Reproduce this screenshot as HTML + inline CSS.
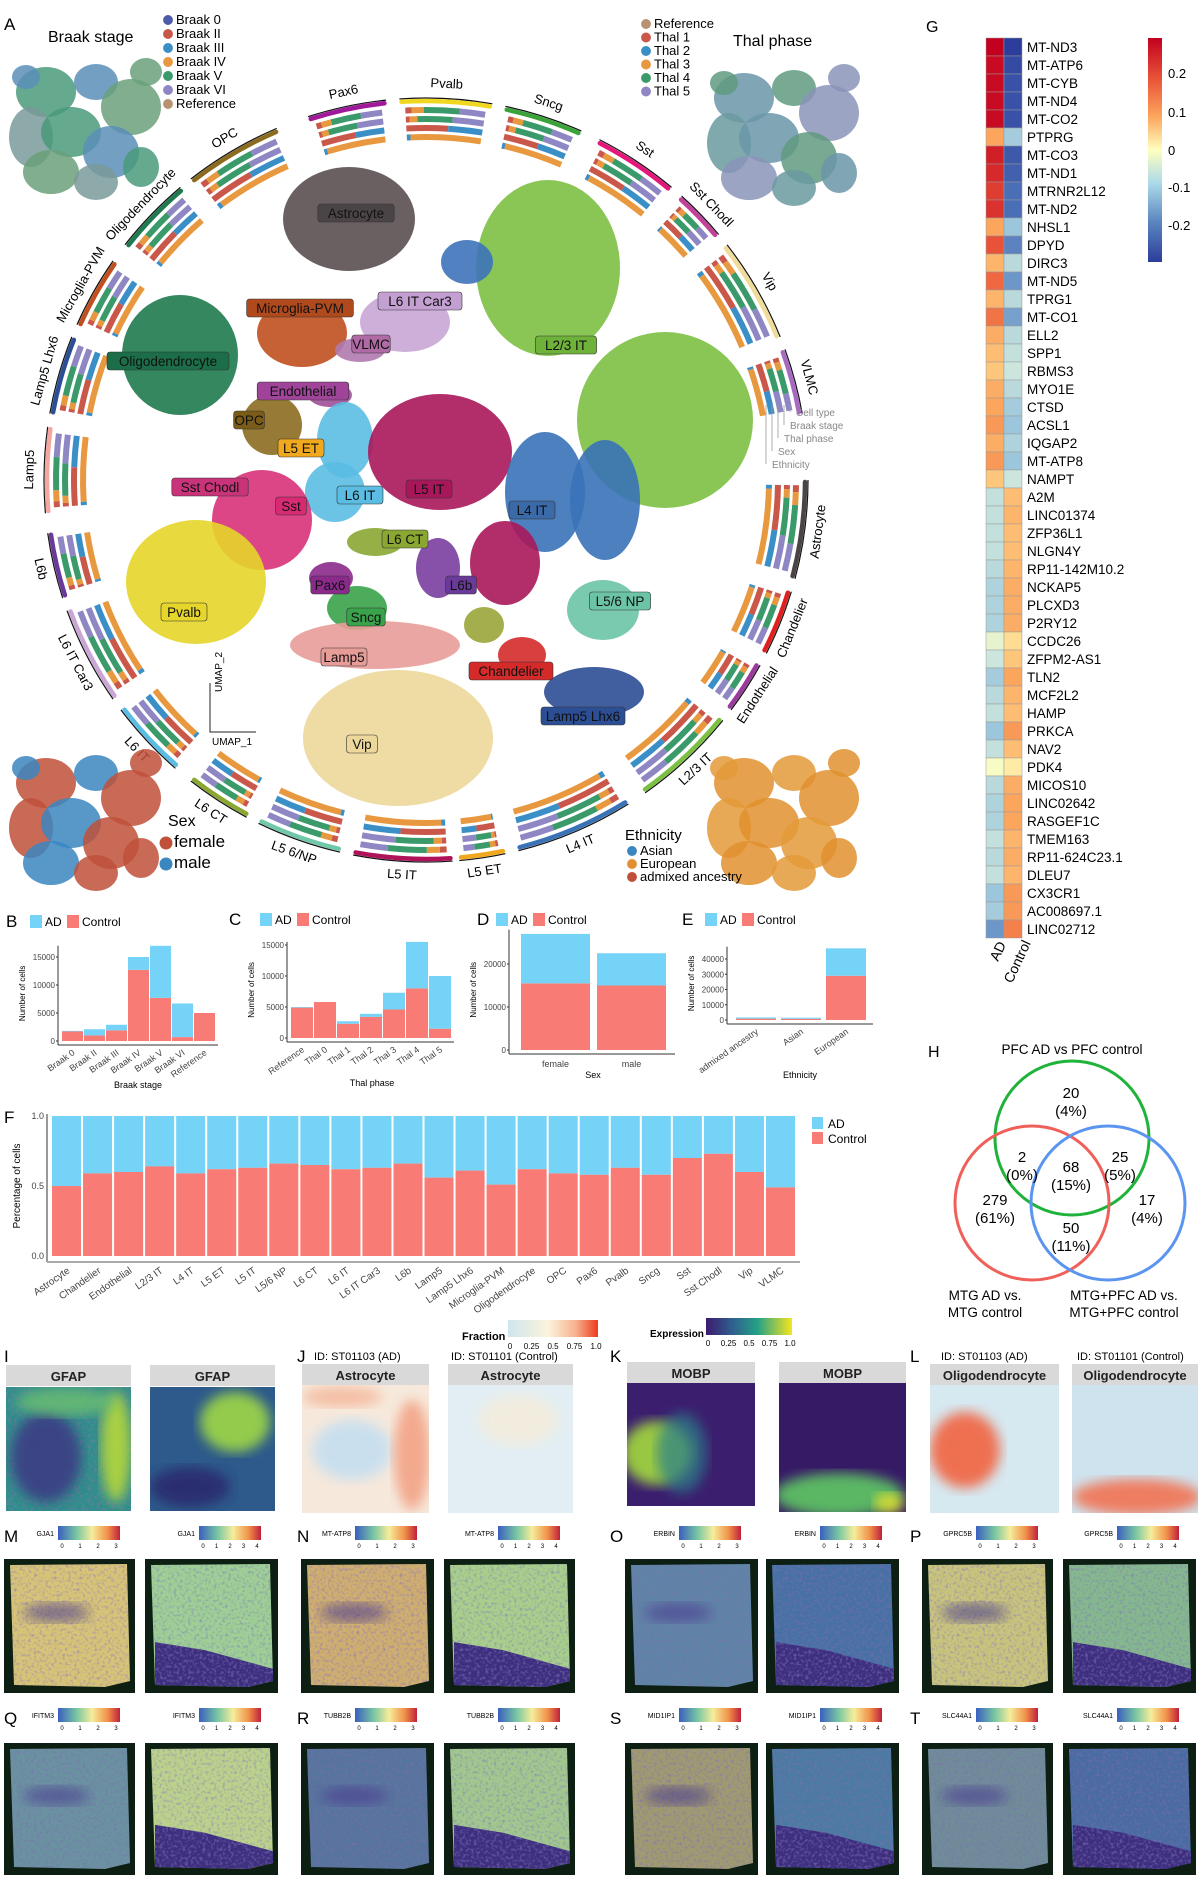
<!DOCTYPE html>
<html><head><meta charset="utf-8">
<style>
html,body{margin:0;padding:0;background:#fff;}
body{width:1200px;height:1876px;overflow:hidden;font-family:"Liberation Sans",Arial,sans-serif;}
svg text{font-family:"Liberation Sans",Arial,sans-serif;}
</style></head>
<body>
<svg id="fig" width="1200" height="1876" viewBox="0 0 1200 1876" xmlns="http://www.w3.org/2000/svg">
<defs>
<filter id="speckle" x="0" y="0" width="100%" height="100%">
<feTurbulence type="fractalNoise" baseFrequency="0.35" numOctaves="2" seed="3" result="n"/>
<feColorMatrix in="n" type="matrix" values="0 0 0 0 0.2  0 0 0 0 0.15  0 0 0 0 0.45  0 0 0 1.6 -0.75" result="m"/>
<feComposite in="m" in2="SourceGraphic" operator="in" result="c"/>
<feMerge><feMergeNode in="SourceGraphic"/><feMergeNode in="c"/></feMerge>
</filter>
<filter id="blur4"><feGaussianBlur stdDeviation="6"/></filter>
<linearGradient id="hmbar" x1="0" y1="0" x2="0" y2="1">
<stop offset="0" stop-color="#c3001f"/><stop offset="0.2" stop-color="#ec5c3b"/><stop offset="0.35" stop-color="#fca55d"/><stop offset="0.5" stop-color="#ffffbf"/><stop offset="0.65" stop-color="#abd9e9"/><stop offset="0.82" stop-color="#5b86c0"/><stop offset="1" stop-color="#2c3d9b"/>
</linearGradient>
<linearGradient id="fracbar" x1="0" x2="1"><stop offset="0" stop-color="#cfe6ee"/><stop offset="0.45" stop-color="#fbf3dc"/><stop offset="0.75" stop-color="#f7b38f"/><stop offset="1" stop-color="#ee3a1f"/></linearGradient>
<linearGradient id="virbar" x1="0" x2="1"><stop offset="0" stop-color="#3d1a6e"/><stop offset="0.3" stop-color="#2f5e8e"/><stop offset="0.6" stop-color="#25a187"/><stop offset="1" stop-color="#f5e51f"/></linearGradient>
<linearGradient id="specbar" x1="0" x2="1"><stop offset="0" stop-color="#3a5fc0"/><stop offset="0.3" stop-color="#78c6a3"/><stop offset="0.55" stop-color="#f6ed9a"/><stop offset="0.8" stop-color="#f19149"/><stop offset="1" stop-color="#c1203b"/></linearGradient>
</defs>
<g id="root"></g>
</svg>
<script>
// ---------- data ----------
const braakCats=["Braak 0","Braak II","Braak III","Braak IV","Braak V","Braak VI","Reference"];
const braakAD=[100,1100,1000,2300,9300,6000,0];
const braakCtl=[1700,1000,1900,12700,7700,700,5000];
const thalCats=["Reference","Thal 0","Thal 1","Thal 2","Thal 3","Thal 4","Thal 5"];
const thalAD=[100,0,400,500,2700,7500,8500];
const thalCtl=[4900,5800,2300,3400,4600,8000,1500];
const sexCats=["female","male"];
const sexAD=[11500,7500];
const sexCtl=[15500,15000];
const ethCats=["admixed ancestry","Asian","European"];
const ethAD=[800,700,18000];
const ethCtl=[900,800,29000];
const typeCats=["Astrocyte","Chandelier","Endothelial","L2/3 IT","L4 IT","L5 ET","L5 IT","L5/6 NP","L6 CT","L6 IT","L6 IT Car3","L6b","Lamp5","Lamp5 Lhx6","Microglia-PVM","Oligodendrocyte","OPC","Pax6","Pvalb","Sncg","Sst","Sst Chodl","Vip","VLMC"];
const typeCtlFrac=[0.50,0.59,0.60,0.64,0.59,0.62,0.63,0.66,0.65,0.62,0.63,0.66,0.56,0.61,0.51,0.62,0.59,0.58,0.63,0.58,0.70,0.73,0.60,0.49];
const genes=["MT-ND3","MT-ATP6","MT-CYB","MT-ND4","MT-CO2","PTPRG","MT-CO3","MT-ND1","MTRNR2L12","MT-ND2","NHSL1","DPYD","DIRC3","MT-ND5","TPRG1","MT-CO1","ELL2","SPP1","RBMS3","MYO1E","CTSD","ACSL1","IQGAP2","MT-ATP8","NAMPT","A2M","LINC01374","ZFP36L1","NLGN4Y","RP11-142M10.2","NCKAP5","PLCXD3","P2RY12","CCDC26","ZFPM2-AS1","TLN2","MCF2L2","HAMP","PRKCA","NAV2","PDK4","MICOS10","LINC02642","RASGEF1C","TMEM163","RP11-624C23.1","DLEU7","CX3CR1","AC008697.1","LINC02712"];
const geneAD=[0.27,0.26,0.26,0.26,0.26,0.12,0.24,0.23,0.21,0.22,0.12,0.19,0.10,0.17,0.10,0.16,0.11,0.09,0.08,0.11,0.12,0.13,0.11,0.13,0.08,-0.07,-0.07,-0.07,-0.07,-0.08,-0.09,-0.09,-0.09,-0.03,-0.06,-0.10,-0.08,-0.07,-0.11,-0.07,-0.01,-0.08,-0.09,-0.09,-0.07,-0.08,-0.07,-0.11,-0.10,-0.16];
const geneCtl=[-0.27,-0.25,-0.24,-0.24,-0.24,-0.10,-0.23,-0.22,-0.20,-0.20,-0.11,-0.18,-0.08,-0.16,-0.08,-0.15,-0.08,-0.07,-0.06,-0.08,-0.10,-0.11,-0.09,-0.11,-0.06,0.09,0.10,0.09,0.09,0.10,0.11,0.11,0.11,0.05,0.08,0.12,0.10,0.09,0.13,0.09,0.03,0.11,0.12,0.12,0.10,0.11,0.10,0.13,0.13,0.15];
const ringNames=["Pax6","Pvalb","Sncg","Sst","Sst Chodl","Vip","VLMC","Astrocyte","Chandelier","Endothelial","L2/3 IT","L4 IT","L5 ET","L5 IT","L5 6/NP","L6 CT","L6 IT","L6 IT Car3","L6b","Lamp5","Lamp5 Lhx6","Microglia-PVM","Oligodendrocyte","OPC"];
const ringStart=[-18,-4,12,27,42,52,70,90,107,119,129,148,168,176,193,208,221,235,252,265,280,294,308,322];
const ringEnd=[-6,10,24,40,50,68,80,105,117,127,145,166,175,191,206,218,233,250,262,278,292,305,320,337];
const ringColor=["#a0199a","#f0d820","#3aa33a","#e4187a","#c2429a","#f0dc9a","#a86ac0","#4a4446","#e0201e","#9a3a9a","#7cc043","#3a72b8","#f0a81e","#b0125a","#70c8a8","#8aa732","#5bbde3","#c9a6d6","#6a3a9a","#f4a6a0","#2c4e94","#c0501f","#1f7a4f","#8b6b1f"];

// ---------- helpers ----------
const NS="http://www.w3.org/2000/svg";
const root=document.getElementById('root');
function mk(tag,attrs,parent){const e=document.createElementNS(NS,tag);for(const k in attrs)e.setAttribute(k,attrs[k]);(parent||root).appendChild(e);return e;}
function tx(x,y,s,size,parent,extra){const e=mk('text',Object.assign({x:x,y:y,'font-size':size,fill:'#000'},extra||{}),parent);e.textContent=s;return e;}
const AD_C="#75d3f8",CT_C="#f87b76";

// ---------- Panel A ----------
const gA=mk('g',{});


tx(4,30,"A",17,gA);
const CX=426,CY=480;
function pt(r,a){const t=(a-90)*Math.PI/180;return [CX+r*Math.cos(t),CY+r*Math.sin(t)];}
function arc(r,a0,a1,col,w,parent){const p0=pt(r,a0),p1=pt(r,a1);const large=(a1-a0)>180?1:0;return mk('path',{d:`M${p0[0]},${p0[1]} A${r},${r} 0 ${large} 1 ${p1[0]},${p1[1]}`,stroke:col,'stroke-width':w,fill:'none','stroke-linecap':'round'},parent);}
const trackDefs=[
 {r:370,cols:["#c9584a","#e8993f","#3a9a6a","#8e87c4"],fr:[0.08,0.15,0.45,0.32]},
 {r:361,cols:["#c9584a","#e8993f","#3a9a6a","#8e87c4"],fr:[0.05,0.1,0.45,0.4]},
 {r:352,cols:["#c9584a","#3b8fc7"],fr:[0.55,0.45]},
 {r:343,cols:["#3b8fc7","#e8993f"],fr:[0.05,0.95]}];
for(let i=0;i<ringNames.length;i++){
  const seg=mk('g',{},gA);
  
  
  const a0=ringStart[i],a1=ringEnd[i];
  arc(382,a0,a1,'#111',1.2,seg).setAttribute('stroke-linecap','butt');
  arc(379,a0+0.3,a1-0.3,ringColor[i],4.5,seg);
  trackDefs.forEach(td=>{let a=a0+0.8;const span=(a1-a0-1.6);td.fr.forEach((f,j)=>{const b=a+span*f;arc(td.r,a,b,td.cols[j],6,seg).setAttribute('stroke-linecap','butt');a=b;});});
  const am=(a0+a1)/2;const p=pt(396,am);
  let rot=am<0?am:(am<90?am:(am<265?am-180:am-360));
  tx(p[0],p[1],ringNames[i],13,seg,{'text-anchor':'middle','dominant-baseline':'middle',transform:`rotate(${rot} ${p[0]} ${p[1]})`});
}
const tl=mk('g',{},gA);


["Cell type","Braak stage","Thal phase","Sex","Ethnicity"].forEach((s,i)=>{tx(796-i*6,416+i*13,s,10,tl,{fill:'#888'});mk('line',{x1:790-i*6,y1:405,x2:790-i*6,y2:412+i*13,stroke:'#999','stroke-width':0.8},tl);});
const clusters=[
 ["astrocyte",349,219,66,52,"#5a4e50"],["l23-it",548,268,72,88,"#7cc043"],["l23-it-b",665,420,88,88,"#7cc043"],["blue-small",467,262,26,22,"#3e73b9"],
 ["microglia",302,333,45,34,"#c0501f"],["l6-it-car3",405,322,45,30,"#c9a6d6"],["vlmc",360,350,25,12,"#b07ab0"],["oligodendrocyte",180,355,58,60,"#1f7a4f"],
 ["endothelial",330,395,22,12,"#a0509a"],["opc",272,425,30,30,"#8b6b1f"],["l6-it",345,440,28,38,"#5bbde3"],["l6-it-b",335,492,30,30,"#5bbde3"],
 ["l5-it",440,452,72,58,"#a8175a"],["l4-it",545,492,40,60,"#3a72b8"],["l4-it-b",605,500,35,60,"#3a72b8"],["sst",262,520,50,50,"#d8327a"],
 ["pvalb",196,582,70,62,"#e6d52a"],["l6-ct",375,542,28,14,"#8aa732"],["pax6",331,578,22,16,"#8c2a8c"],["l6b",438,568,22,30,"#7a3ea0"],
 ["sncg",357,608,30,22,"#3aa24a"],["l5-it-b",505,563,35,42,"#a8175a"],["l6b-olive",484,625,20,18,"#9aa53a"],["lamp5",375,645,85,24,"#e89c98"],
 ["vip",398,738,95,68,"#ecd89a"],["l56-np",603,610,36,30,"#6cc4a6"],["chandelier",522,655,24,18,"#d42a2a"],["lamp5-lhx6",594,692,50,25,"#2c4e94"]];
clusters.forEach(c=>{const e=mk('ellipse',{cx:c[1],cy:c[2],rx:c[3],ry:c[4],fill:c[5],opacity:0.9},gA);});
const labels=[["Astrocyte",356,213,"#4a4446"],["Microglia-PVM",300,308,"#b04a1c"],["L6 IT Car3",420,301,"#c4a0d2"],["VLMC",371,344,"#b06aa6"],["L2/3 IT",566,345,"#6fb23a"],["Oligodendrocyte",168,361,"#1b6e47"],["Endothelial",303,391,"#a0449a"],["OPC",249,420,"#7a5c18"],["L5 ET",301,448,"#f0a81e"],["Sst Chodl",210,487,"#c8337a"],["Sst",291,506,"#d82a72"],["L6 IT",360,495,"#5bbde3"],["L5 IT",429,489,"#a8175a"],["L4 IT",532,510,"#3a6aa8"],["L6 CT",405,539,"#8aa732"],["Pax6",330,585,"#8c2a8c"],["L6b",461,585,"#6a3a9a"],["L5/6 NP",620,601,"#6cc4a6"],["Sncg",366,617,"#3aa24a"],["Pvalb",184,612,"#e6d52a"],["Lamp5",344,657,"#e89c98"],["Chandelier",511,671,"#d42a2a"],["Lamp5 Lhx6",583,716,"#2c4e94"],["Vip",362,744,"#ecd89a"]];
labels.forEach(l=>{const g=mk('g',{},gA);const w=l[0].length*7.6+8;mk('rect',{x:l[1]-w/2,y:l[2]-9,width:w,height:18,rx:3,fill:l[3],stroke:'#333','stroke-width':0.6},g);tx(l[1],l[2]+5,l[0],13.5,g,{'text-anchor':'middle',fill:'#111'});});
const ua=mk('g',{},gA);
mk('path',{d:'M210,683 L210,732 L256,732',stroke:'#222',fill:'none','stroke-width':1},ua);
tx(224,730,"UMAP_2",10,ua,{transform:'rotate(-90 204 712)'});tx(212,745,"UMAP_1",10,ua);
function mini(name,cx,cy,cols){const g=mk('g',{},gA);
 const blobs=[[-40,-35,30,25],[10,-45,22,18],[45,-20,30,28],[-55,10,22,30],[-15,5,30,25],[25,25,28,26],[-35,45,28,22],[10,55,22,18],[55,40,18,20],[-60,-50,14,12],[60,-55,16,14]];
 blobs.forEach((b,i)=>mk('ellipse',{cx:cx+b[0],cy:cy+b[1],rx:b[2],ry:b[3],fill:cols[i%cols.length],opacity:0.85},g));return g;}
mini('umap-braak-stage',86,127,["#4a9a7a","#5a8eb8","#6aa07a","#7a9a9a"]);
mini('umap-thal-phase',784,133,["#6a96a8","#5f9a80","#8a94b8","#6a9aa0"]);
mini('umap-sex',86,818,["#c0503a","#3a86c0","#c0503a","#c0503a","#3a86c0"]);
mini('umap-ethnicity',784,818,["#e0902e","#e49a38"]);
tx(48,42,"Braak stage",16,gA);tx(733,46,"Thal phase",16,gA);tx(168,826,"Sex",16,gA);tx(625,840,"Ethnicity",15,gA);
function legendList(x,y,items,cols,size,step,name){const g=mk('g',{},gA);items.forEach((s,i)=>{mk('circle',{cx:x,cy:y+i*step-4,r:size*0.38,fill:cols[i]},g);tx(x+8,y+i*step,s,size,g);});}
legendList(168,24,["Braak 0","Braak II","Braak III","Braak IV","Braak V","Braak VI","Reference"],["#4d5aa8","#c9584a","#3b8fc7","#e8993f","#3a9a6a","#8e87c4","#b89270"],13,14,'legend-braak');
legendList(646,28,["Reference","Thal 1","Thal 2","Thal 3","Thal 4","Thal 5"],["#b89270","#c9584a","#3b8fc7","#e8993f","#3a9a6a","#8e87c4"],13,13.5,'legend-thal');
legendList(166,847,["female","male"],["#c0503a","#3a86c0"],17,21,'legend-sex');
legendList(632,855,["Asian","European","admixed ancestry"],["#3a86c0","#e0902e","#c0503a"],13,13,'legend-ethnicity');

// ---------- stacked count bar charts ----------
function stacked(name,letter,lx,ox,y0,kPer,maxV,ticks,barX,barW,gap,cats,ad,ctl,title,titleX,titleY,legX,legY,rotLab){
 const g=mk('g',{});
 tx(lx,legY+12,letter,17,g);
 const la=mk('rect',{x:legX,y:legY,width:12,height:13,fill:AD_C},g);
 tx(legX+15,legY+11,"AD",12,g);
 const lc=mk('rect',{x:legX+37,y:legY,width:12,height:13,fill:CT_C},g);
 tx(legX+52,legY+11,"Control",12,g);
 const Y=v=>y0-v*kPer;
 const yTop=Y(maxV);
 mk('line',{x1:ox,y1:yTop,x2:ox,y2:y0+4,stroke:'#333','stroke-width':1},g);
 const nB=cats.length;const xEnd=barX+nB*(barW+gap)+2;
 mk('line',{x1:ox,y1:y0+4,x2:xEnd,y2:y0+4,stroke:'#333','stroke-width':1},g);
 ticks.forEach(t=>{tx(ox-3,Y(t)+3,String(t),8,g,{'text-anchor':'end',fill:'#444'});mk('line',{x1:ox-2,y1:Y(t),x2:ox,y2:Y(t),stroke:'#333'},g);});
 tx(0,0,"Number of cells",8,g,{'text-anchor':'middle',transform:`translate(${ox-(String(maxV).length*5+8)},${(y0+yTop)/2}) rotate(-90)`});
 cats.forEach((c,i)=>{const x=barX+i*(barW+gap);
  const r1=mk('rect',{x:x,y:Y(ctl[i]),width:barW,height:ctl[i]*kPer,fill:CT_C},g);
  const r2=mk('rect',{x:x,y:Y(ctl[i]+ad[i]),width:barW,height:ad[i]*kPer,fill:AD_C},g);
  const cx=x+barW/2;
  if(rotLab) tx(cx+3,y0+13,c,9,g,{'text-anchor':'end',fill:'#444',transform:`rotate(-35 ${cx+3} ${y0+13})`});
  else tx(cx,y0+17,c,9,g,{'text-anchor':'middle',fill:'#444'});
 });
 tx(titleX,titleY,title,9,g,{'text-anchor':'middle'});
}
stacked('panel-b-braak-bars','B',6,58,1041,84/15000,17000,[0,5000,10000,15000],62,21,1,braakCats,braakAD,braakCtl,"Braak stage",138,1088,30,915,true);
stacked('panel-c-thal-bars','C',229,287,1038,93/15000,15500,[0,5000,10000,15000],291,22,1,thalCats,thalAD,thalCtl,"Thal phase",372,1086,260,913,true);
stacked('panel-d-sex-bars','D',477,509,1050,86/20000,28000,[0,10000,20000],521,69,7,sexCats,sexAD,sexCtl,"Sex",593,1078,496,913,false);
stacked('panel-e-ethnicity-bars','E',682,727,1020,61/40000,48000,[0,10000,20000,30000,40000],736,40,5,ethCats,ethAD,ethCtl,"Ethnicity",800,1078,705,913,true);

// ---------- Panel F ----------
(function(){
 const g=mk('g',{});
 tx(4,1123,"F",17,g);
 const y0=1256,y1=1116,Y=v=>y0-(y0-y1)*v;
 mk('line',{x1:47,y1:1114,x2:47,y2:1262,stroke:'#333'},g);mk('line',{x1:47,y1:1262,x2:800,y2:1262,stroke:'#aaa','stroke-width':2},g);
 [0,0.5,1].forEach(t=>{tx(44,Y(t)+3,t.toFixed(1),9,g,{'text-anchor':'end',fill:'#444'});});
 tx(0,0,"Percentage of cells",10,g,{'text-anchor':'middle',transform:'translate(20,1186) rotate(-90)'});
 const step=745/typeCats.length;
 typeCats.forEach((c,i)=>{const x=52+i*step;
  const r2=mk('rect',{x:x,y:Y(1),width:step-2,height:(y0-y1)*(1-typeCtlFrac[i]),fill:AD_C},g);
  const r1=mk('rect',{x:x,y:Y(typeCtlFrac[i]),width:step-2,height:(y0-y1)*typeCtlFrac[i],fill:CT_C},g);
  const cx=x+step/2+3;tx(cx,1272,c,10,g,{'text-anchor':'end',fill:'#444',transform:`rotate(-35 ${cx} 1272)`});
 });
 const a=mk('rect',{x:812,y:1117,width:11,height:12,fill:AD_C},g);
 tx(828,1128,"AD",12,g);
 const b=mk('rect',{x:812,y:1132,width:11,height:12,fill:CT_C},g);
 tx(828,1143,"Control",12,g);
})();

// ---------- Panel G heatmap ----------
(function(){
 const g=mk('g',{});
 tx(926,32,"G",16,g);
 const stops=[[-0.27,[44,61,155]],[-0.2,[74,111,182]],[-0.12,[145,191,219]],[-0.06,[205,230,221]],[0,[255,255,191]],[0.06,[254,214,138]],[0.12,[252,165,93]],[0.18,[236,92,59]],[0.27,[195,0,31]]];
 function col(v){v=Math.max(-0.27,Math.min(0.27,v));for(let i=0;i<stops.length-1;i++){const a=stops[i],b=stops[i+1];if(v<=b[0]){const t=(v-a[0])/(b[0]-a[0]);const c=a[1].map((x,j)=>Math.round(x+(b[1][j]-x)*t));return `rgb(${c})`;}}return 'rgb(195,0,31)';}
 const top=38,h=18;
 genes.forEach((gn,i)=>{const y=top+i*h;
  const c1=mk('rect',{x:986,y:y,width:18,height:h,fill:col(geneAD[i]),stroke:'#999','stroke-width':0.5},g);
  const c2=mk('rect',{x:1004,y:y,width:18,height:h,fill:col(geneCtl[i]),stroke:'#999','stroke-width':0.5},g);
  tx(1027,y+14,gn,13.5,g);
 });
 tx(0,0,"AD",14,g,{transform:'translate(998,962) rotate(-65)'});
 tx(0,0,"Control",14,g,{transform:'translate(1012,984) rotate(-65)'});
 const cb=mk('rect',{x:1148,y:38,width:14,height:224,fill:'url(#hmbar)'},g);
 [["0.2",78],["0.1",117],["0",155],["-0.1",192],["-0.2",230]].forEach(t=>tx(1168,t[1],t[0],13,g));
})();

// ---------- Panel H venn ----------
(function(){
 const g=mk('g',{});
 tx(928,1057,"H",16,g);tx(1072,1054,"PFC AD vs PFC control",13.5,g,{'text-anchor':'middle'});
 const cg=mk('circle',{cx:1072,cy:1138,r:77,fill:'none',stroke:'#1fb33c','stroke-width':3},g);
 const cr=mk('circle',{cx:1032,cy:1203,r:77,fill:'none',stroke:'#f0605a','stroke-width':3},g);
 const cbl=mk('circle',{cx:1108,cy:1203,r:77,fill:'none',stroke:'#5b95f0','stroke-width':3},g);
 [["20","(4%)",1071,1098],["2","(0%)",1022,1162],["68","(15%)",1071,1172],["25","(5%)",1120,1162],["279","(61%)",995,1205],["17","(4%)",1147,1205],["50","(11%)",1071,1233]].forEach(v=>{tx(v[2],v[3],v[0],15,g,{'text-anchor':'middle'});tx(v[2],v[3]+18,v[1],15,g,{'text-anchor':'middle'});});
 tx(985,1300,"MTG AD vs.",13.5,g,{'text-anchor':'middle'});tx(985,1317,"MTG control",13.5,g,{'text-anchor':'middle'});
 tx(1124,1300,"MTG+PFC AD vs.",13.5,g,{'text-anchor':'middle'});tx(1124,1317,"MTG+PFC control",13.5,g,{'text-anchor':'middle'});
})();

// ---------- spatial panels ----------
const gS=mk('g',{});
const defs=document.querySelector('defs');
let clipN=0;
function clipRect(x,y,w,h){const id='clip'+(clipN++);const cp=mk('clipPath',{id:id},defs);mk('rect',{x:x,y:y,width:w,height:h},cp);return `url(#${id})`;}
tx(462,1340,"Fraction",11,gS,{'font-weight':'bold'});mk('rect',{x:508,y:1320,width:90,height:17,fill:'url(#fracbar)'},gS);
["0","0.25","0.5","0.75","1.0"].forEach((s,i)=>tx(510+i*21.5,1349,s,8,gS,{'text-anchor':'middle'}));
tx(650,1337,"Expression",10,gS,{'font-weight':'bold'});mk('rect',{x:706,y:1318,width:86,height:17,fill:'url(#virbar)'},gS);
["0","0.25","0.5","0.75","1.0"].forEach((s,i)=>tx(708+i*20.5,1346,s,8,gS,{'text-anchor':'middle'}));
[["I",4],["J",297],["K",610],["L",910]].forEach(l=>tx(l[1],1362,l[0],17,gS));
tx(314,1360,"ID: ST01103 (AD)",11,gS);tx(451,1360,"ID: ST01101 (Control)",11,gS);
tx(941,1360,"ID: ST01103 (AD)",11,gS);tx(1077,1360,"ID: ST01101 (Control)",11,gS);
function blob(g,cx,cy,rx,ry,c,op){mk('ellipse',{cx:cx,cy:cy,rx:rx,ry:ry,fill:c,opacity:op,filter:'url(#blur4)'},g);}
function tile(name,title,x,y,w,h,hy,draw){
 const g=mk('g',{},gS);
 mk('rect',{x:x,y:hy,width:w,height:21,fill:'#d9d9d9'},g);
 tx(x+w/2,hy+16,title,13,g,{'text-anchor':'middle','font-weight':'bold','fill':'#222'});
 const inner=mk('g',{'clip-path':clipRect(x,y,w,h)},g);
 draw(inner,x,y,w,h);
}
tile('gfap-ad','GFAP',6,1387,125,124,1365,(g,x,y,w,h)=>{mk('rect',{x:x,y:y,width:w,height:h,fill:'#2f8f8a',filter:'url(#speckle)'},g);blob(g,x+40,y+70,35,45,'#3b3c84',0.9);blob(g,x+110,y+60,15,55,'#b5d83a',0.9);blob(g,x+60,y+15,50,14,'#6cc070',0.8);});
tile('gfap-control','GFAP',150,1387,125,124,1365,(g,x,y,w,h)=>{mk('rect',{x:x,y:y,width:w,height:h,fill:'#2d5a8a'},g);blob(g,x+85,y+35,35,30,'#9ad248',0.95);blob(g,x+40,y+100,40,20,'#2b2a6e',0.9);});
tile('astrocyte-ad','Astrocyte',302,1385,127,128,1364,(g,x,y,w,h)=>{mk('rect',{x:x,y:y,width:w,height:h,fill:'#f6e9dc'},g);blob(g,x+50,y+65,40,30,'#c5def0',0.9);blob(g,x+110,y+70,18,55,'#f29a7a',0.8);blob(g,x+40,y+12,40,10,'#f4b394',0.8);});
tile('astrocyte-control','Astrocyte',448,1385,125,128,1364,(g,x,y,w,h)=>{mk('rect',{x:x,y:y,width:w,height:h,fill:'#e2eef3'},g);blob(g,x+70,y+35,40,25,'#f6ecda',0.8);});
tile('mobp-ad','MOBP',627,1383,128,123,1362,(g,x,y,w,h)=>{mk('rect',{x:x,y:y,width:w,height:h,fill:'#3b1f6e'},g);blob(g,x+30,y+70,35,32,'#9ed040',0.95);blob(g,x+55,y+70,25,40,'#2a7f8a',0.7);});
tile('mobp-control','MOBP',779,1383,127,129,1362,(g,x,y,w,h)=>{mk('rect',{x:x,y:y,width:w,height:h,fill:'#371a66'},g);blob(g,x+60,y+112,65,22,'#5dc063',0.95);blob(g,x+110,y+120,15,10,'#e0e030',0.9);});
tile('oligodendrocyte-ad','Oligodendrocyte',930,1385,129,128,1364,(g,x,y,w,h)=>{mk('rect',{x:x,y:y,width:w,height:h,fill:'#d6e8f0'},g);blob(g,x+35,y+65,35,38,'#f06a48',0.95);});
tile('oligodendrocyte-control','Oligodendrocyte',1072,1385,126,128,1364,(g,x,y,w,h)=>{mk('rect',{x:x,y:y,width:w,height:h,fill:'#cfe3ee'},g);blob(g,x+65,y+112,65,18,'#f0785a',0.95);});
function geneLeg(x,y,name,n){const g=mk('g',{},gS);tx(x,y+10,name,7,g,{'text-anchor':'end'});mk('rect',{x:x+4,y:y,width:62,height:14,fill:'url(#specbar)'},g);for(let i=0;i<=n;i++)tx(x+8+i*54/n,y+22,String(i),6,g,{'text-anchor':'middle'});}
const spRows=[
 {ly:1526,iy:1559,ih:134,letters:["M","N","O","P"],genes:["GJA1","MT-ATP8","ERBIN","GPRC5B"],
  cols:[["#d7c476","#9fcf95"],["#cfae6e","#a9cf8b"],["#5f84a6","#4671a4"],["#c9c47c","#86b88e"]]},
 {ly:1708,iy:1743,ih:132,letters:["Q","R","S","T"],genes:["IFITM3","TUBB2B","MID1IP1","SLC44A1"],
  cols:[["#6b92a0","#bcd28c"],["#56749c","#a2c88e"],["#a09a70","#4b7aa2"],["#6f8c98","#4a6ca2"]]}];
const colX=[[4,135],[145,278],[301,434],[444,575],[625,758],[766,899],[922,1053],[1063,1196]];
spRows.forEach((r,ri)=>{
 for(let p=0;p<4;p++){
  tx([4,297,610,910][p],r.ly+16,r.letters[p],17,gS);
  geneLeg(colX[2*p][0]+50,r.ly,r.genes[p],3);geneLeg(colX[2*p+1][0]+50,r.ly,r.genes[p],4);
  for(let s=0;s<2;s++){const c=colX[2*p+s];const x=c[0],w=c[1]-c[0],y=r.iy,h=r.ih;
   const g0=mk('g',{},gS);
   const g=mk('g',{'clip-path':clipRect(x,y,w,h)},g0);
   mk('rect',{x:x,y:y,width:w,height:h,fill:'#0d1f12'},g);
   const tp=`M${x+6},${y+6} L${x+w-8},${y+5} L${x+w-5},${y+h-12} L${x+w-30},${y+h-6} L${x+10},${y+h-8} Z`;
   mk('path',{d:tp,fill:r.cols[p][s],filter:'url(#speckle)'},g);
   if(s==1){mk('path',{d:`M${x+10},${y+h*0.62} L${x+w*0.45},${y+h*0.68} L${x+w-5},${y+h*0.82} L${x+w-5},${y+h-12} L${x+w-30},${y+h-6} L${x+10},${y+h-8} Z`,fill:'#3d2d80',filter:'url(#speckle)'},g);}
   else {blob(g,x+w*0.4,y+h*0.4,w*0.25,h*0.07,'#4a3a90',0.6);}
  }
 }
});
</script>
</body></html>
